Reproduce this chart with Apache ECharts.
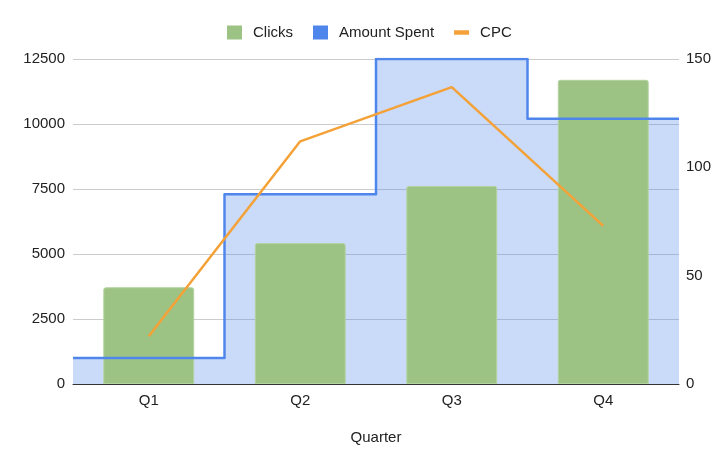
<!DOCTYPE html>
<html>
<head>
<meta charset="utf-8">
<script src="https://cdn.jsdelivr.net/npm/echarts@6/dist/echarts.min.js"></script>
<style>
html,body{margin:0;padding:0;background:#fff;}
#chart{width:720px;height:463px;}
</style>
</head>
<body>
<div id="chart"></div>
<script>
const quarters = ['Q1', 'Q2', 'Q3', 'Q4'];
const clicks = [3720, 5420, 7620, 11700];
const amountSpent = [1000, 7300, 12500, 10200];
const cpc = [22, 112, 137, 73];
const leftTicks = [0, 2500, 5000, 7500, 10000, 12500];
const rightTicks = [0, 50, 100, 150];

const FONT = 'Liberation Sans, Arial, sans-serif';
const GREEN = '#9dc384';
const BLUE = '#4f86ec';
const ORANGE = '#f4a137';

// step data spanning each category's full band
const stepData = amountSpent.flatMap((v, i) => [[i, v], [i + 1, v]]);

const chart = echarts.init(document.getElementById('chart'));
chart.setOption({
  animation: false,
  textStyle: { fontFamily: FONT },
  legend: {
    top: 20,
    left: 222,
    itemWidth: 15,
    itemHeight: 14,
    itemGap: 20,
    textStyle: { fontSize: 15, color: '#222', fontFamily: FONT, padding: [0, 0, 0, 6] },
    data: [
      { name: 'Clicks', icon: 'rect', itemStyle: { color: GREEN, borderWidth: 0 } },
      { name: 'Amount Spent', icon: 'rect', itemStyle: { color: BLUE, borderWidth: 0 } },
      { name: 'CPC', icon: 'path://M0,0 L10,0 L10,3 L0,3 Z', itemStyle: { color: ORANGE, borderWidth: 0 } }
    ]
  },
  grid: { left: 73, right: 41, top: 59, bottom: 79 },
  xAxis: [
    {
      type: 'category',
      data: quarters,
      boundaryGap: true,
      name: 'Quarter',
      nameLocation: 'middle',
      nameGap: 46,
      nameTextStyle: { fontSize: 15, color: '#222', fontFamily: FONT },
      axisLine: { lineStyle: { color: '#333', width: 1 } },
      axisTick: { show: false },
      axisLabel: { fontSize: 15, color: '#222', margin: 9, fontFamily: FONT }
    },
    {
      type: 'value',
      min: 0,
      max: quarters.length,
      show: false
    }
  ],
  yAxis: [
    {
      type: 'value',
      min: leftTicks[0],
      max: leftTicks[leftTicks.length - 1],
      interval: 2500,
      axisLine: { show: false },
      axisTick: { show: false },
      axisLabel: { fontSize: 15, color: '#222', margin: 8, fontFamily: FONT, formatter: v => String(v) },
      splitLine: { lineStyle: { color: '#cccccc', width: 1 } }
    },
    {
      type: 'value',
      min: rightTicks[0],
      max: rightTicks[rightTicks.length - 1],
      interval: 50,
      position: 'right',
      axisLine: { show: false },
      axisTick: { show: false },
      axisLabel: { fontSize: 15, color: '#222', margin: 7, fontFamily: FONT, formatter: v => String(v) },
      splitLine: { show: false }
    }
  ],
  series: [
    {
      name: 'Amount Spent',
      type: 'line',
      xAxisIndex: 1,
      yAxisIndex: 0,
      data: stepData,
      showSymbol: false,
      lineStyle: { width: 0, opacity: 0 },
      areaStyle: { color: 'rgba(79,134,236,0.3)', opacity: 1 },
      z: 1,
      silent: true
    },
    {
      name: 'Clicks',
      type: 'bar',
      xAxisIndex: 0,
      yAxisIndex: 0,
      data: clicks,
      barWidth: '60%',
      itemStyle: { color: GREEN, borderRadius: [2, 2, 0, 0], borderColor: '#b3d3a0', borderWidth: 1 },
      z: 2
    },
    {
      name: 'Amount Spent',
      type: 'line',
      xAxisIndex: 1,
      yAxisIndex: 0,
      data: stepData,
      showSymbol: false,
      lineStyle: { width: 2.5, color: BLUE, join: 'round' },
      itemStyle: { color: BLUE },
      z: 3
    },
    {
      name: 'CPC',
      type: 'line',
      xAxisIndex: 0,
      yAxisIndex: 1,
      data: cpc,
      showSymbol: false,
      lineStyle: { width: 2.5, color: ORANGE },
      itemStyle: { color: ORANGE },
      z: 4
    }
  ]
});
</script>
</body>
</html>
